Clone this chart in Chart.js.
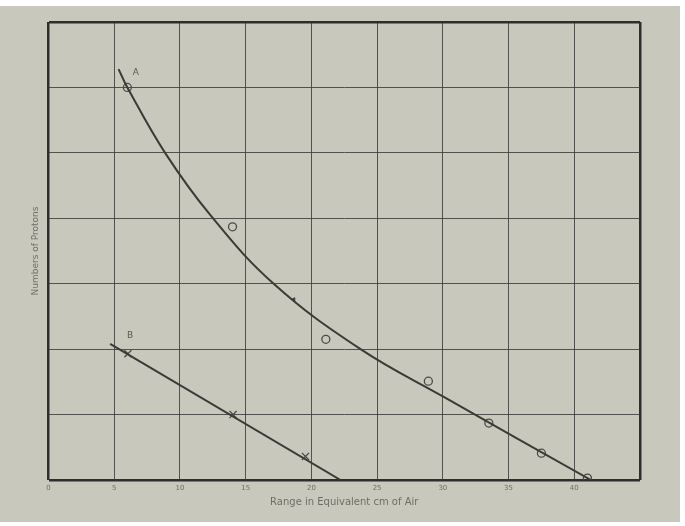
<!DOCTYPE html>
<html>
<head>
<meta charset="utf-8">
<script src="https://cdn.jsdelivr.net/npm/chart.js@4"></script>
<style>
html,body{margin:0;padding:0;background:#ffffff;}
#wrap{position:absolute;left:0;top:0;width:685px;height:526px;}
</style>
</head>
<body>
<div id="wrap"><canvas id="c" width="685" height="526"></canvas></div>
<script>
// x tick labels
const xTicks = [0, 5, 10, 15, 20, 25, 30, 35, 40];
// Curve A (smooth fitted curve)
const curveAx = [5.33, 6.0, 8.87, 12.35, 17.13, 23.74, 30.07, 41.27];
const curveAy = [6.28, 6.0, 5.0, 4.04, 3.0, 2.0, 1.27, 0.0];
// Circles, series A
const pointsAx = [6.0, 14.0, 21.1, 28.9, 33.5, 37.5, 41.0];
const pointsAy = [6.0, 3.87, 2.15, 1.51, 0.87, 0.41, 0.03];
// Straight line B
const lineBx = [4.69, 22.22];
const lineBy = [2.08, 0.0];
// Crosses, series B
const pointsBx = [6.04, 14.04, 19.55];
const pointsBy = [1.93, 1.0, 0.36];
// small mark on curve A
const markX = [18.66];
const markY = [2.76];
// curve labels
const curveLabels = ['A', 'B'];
const curveLabelX = [6.65, 6.21];
const curveLabelY = [6.23, 2.2];

const zip = (xs, ys) => xs.map((x, i) => ({x: x, y: ys[i]}));

const INK = '#3a3a38';
const GRID = 'rgba(60,60,58,0.85)';
const TEXT = '#6e6e68';

const bgPlugin = {
  id: 'paper',
  beforeDraw(chart) {
    const ctx = chart.ctx;
    ctx.save();
    ctx.fillStyle = '#c8c9bc';
    ctx.fillRect(0, 6, 680, 516);
    ctx.restore();
  }
};

const labelPlugin = {
  id: 'curveLabels',
  afterDatasetsDraw(chart) {
    const ctx = chart.ctx;
    const xs = chart.scales.x, ys = chart.scales.y;
    ctx.save();
    ctx.fillStyle = '#5a5a55';
    ctx.font = '9px "DejaVu Sans"';
    ctx.textAlign = 'center';
    ctx.textBaseline = 'middle';
    curveLabels.forEach((t, i) => {
      ctx.fillText(t, xs.getPixelForValue(curveLabelX[i]), ys.getPixelForValue(curveLabelY[i]));
    });
    ctx.restore();
  }
};

new Chart(document.getElementById('c'), {
  type: 'scatter',
  data: {
    datasets: [
      {
        type: 'line',
        data: zip(curveAx, curveAy),
        borderColor: INK,
        borderWidth: 2,
        pointRadius: 0,
        tension: 0.4,
        fill: false
      },
      {
        data: zip(pointsAx, pointsAy),
        pointStyle: 'circle',
        pointRadius: 4,
        pointBorderWidth: 1.3,
        pointBorderColor: '#4a4a47',
        pointBackgroundColor: 'rgba(0,0,0,0)'
      },
      {
        type: 'line',
        data: zip(lineBx, lineBy),
        borderColor: INK,
        borderWidth: 2,
        pointRadius: 0,
        fill: false
      },
      {
        data: zip(pointsBx, pointsBy),
        pointStyle: 'crossRot',
        pointRadius: 5,
        pointBorderWidth: 1.3,
        pointBorderColor: '#4a4a47'
      },
      {
        data: zip(markX, markY),
        pointStyle: 'triangle',
        pointRadius: 2,
        pointBorderWidth: 1,
        pointBorderColor: INK,
        pointBackgroundColor: INK,
        rotation: 150
      }
    ]
  },
  options: {
    responsive: false,
    animation: false,
    devicePixelRatio: 1,
    layout: { padding: { left: 0, right: 45, top: 22, bottom: 0 } },
    plugins: { legend: { display: false }, tooltip: { enabled: false } },
    scales: {
      x: {
        type: 'linear',
        min: 0, max: 45,
        afterBuildTicks(scale) { scale.ticks = [0,5,10,15,20,25,30,35,40,45].map(v => ({value: v})); },
        afterFit(scale) { scale.height = 46; },
        ticks: {
          padding: 4,
          color: TEXT,
          font: { family: 'DejaVu Sans', size: 7 },
          callback: (v) => xTicks.includes(v) ? String(v) : ''
        },
        grid: {
          drawTicks: false,
          color: (c) => (c.tick && (c.tick.value === 0 || c.tick.value === 45)) ? '#2e2e2c' : GRID,
          lineWidth: (c) => (c.tick && (c.tick.value === 0 || c.tick.value === 45)) ? 2.5 : 1
        },
        border: { display: false },
        title: {
          display: true,
          text: 'Range in Equivalent cm of Air',
          color: TEXT,
          font: { family: 'DejaVu Sans', size: 10 },
          padding: { top: 0, bottom: 18 }
        }
      },
      y: {
        type: 'linear',
        min: 0, max: 7,
        afterBuildTicks(scale) { scale.ticks = [0,1,2,3,4,5,6,7].map(v => ({value: v})); },
        afterFit(scale) { scale.width = 48.5; },
        ticks: { display: false },
        grid: {
          drawTicks: false,
          color: (c) => (c.tick && (c.tick.value === 0 || c.tick.value === 7)) ? '#2e2e2c' : GRID,
          lineWidth: (c) => (c.tick && (c.tick.value === 0 || c.tick.value === 7)) ? 2.5 : 1
        },
        border: { display: false },
        title: {
          display: true,
          text: 'Numbers of Protons',
          color: TEXT,
          font: { family: 'DejaVu Sans', size: 9 },
          padding: { top: 30, bottom: 0 }
        }
      }
    }
  },
  plugins: [bgPlugin, labelPlugin]
});
</script>
</body>
</html>
